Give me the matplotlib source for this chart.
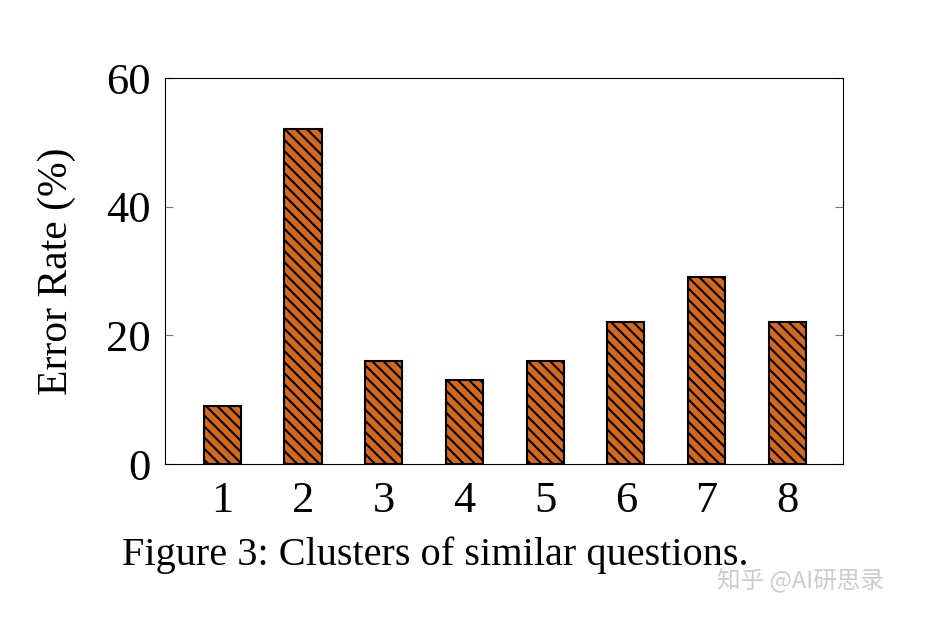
import matplotlib
matplotlib.use("Agg")
import matplotlib.pyplot as plt

categories = [1, 2, 3, 4, 5, 6, 7, 8]
error_rate = [9, 52, 16, 13, 16, 22, 29, 22]
yticks = [0, 20, 40, 60]

plt.rcParams['font.family'] = ['Liberation Serif', 'DejaVu Serif']
plt.rcParams['hatch.linewidth'] = 1.5
fig = plt.figure(figsize=(9.25, 6.21), dpi=100)
ax = fig.add_axes([165/925, 1-464/621, (843-165)/925, (464-78)/621])
ax.bar(categories, error_rate, width=0.46, color='#d2691e', edgecolor='black',
       hatch='\\\\\\', linewidth=1.5)
ax.set_xlim(0.29, 8.69)
ax.set_ylim(0, 60)
ax.set_yticks(yticks)
ax.set_xticks(categories)
ax.tick_params(labelsize=32, direction='in', length=6, width=0.8, right=True, color='#777777')
ax.tick_params(axis='x', length=0, pad=12)
ax.tick_params(axis='y', pad=10)
ax.set_ylabel('Error Rate (%)', fontsize=30, labelpad=22)
fig.text(0.47, 1-555/621, 'Figure 3: Clusters of similar questions.', fontsize=29,
         ha='center', va='center')
fig.text(0.865, 1-580/621, '知乎 @AI研思录', fontsize=17, color='#cccccc', ha='center', va='center',
         family=['Noto Sans CJK SC', 'DejaVu Sans'])
fig.savefig('out.png', dpi=100)
